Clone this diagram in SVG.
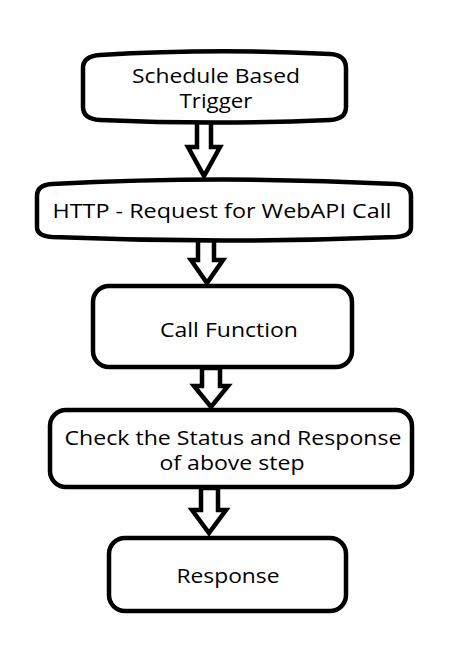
<svg xmlns="http://www.w3.org/2000/svg" width="463" height="655" viewBox="0 0 463 655">
<style>
.box{fill:#fff;stroke:#000;stroke-width:4.5;stroke-linejoin:round}
.arr{fill:#fff;stroke:#000;stroke-width:4.5;stroke-linejoin:miter}
text{font-family:"Open Sans","Noto Sans","Liberation Sans",sans-serif;font-size:20px;font-weight:500;fill:#000;text-anchor:middle}
</style>
<rect width="463" height="655" fill="#fff"/>
<g id="connectors">
<polygon class="arr" points="197,122 211,122 211,147 220,147 204,176 188,147 197,147"/>
<polygon class="arr" points="198,240 214,240 214,260 223,260 207,283 191,260 198,260"/>
<polygon class="arr" points="202,368 220,368 220,386 228,386 211,407 194,386 202,386"/>
<polygon class="arr" points="201,488 218,488 218,510 226,510 209,533 192,510 201,510"/>
</g>
<g id="n1">
<path class="box" d="M83,68 Q83,56 100,55 Q215,48 330,54 Q346,55 346,68 L346,107 Q346,119 330,120 Q215,125 100,120 Q83,119 83,107 Z"/>
<text x="216" y="83" textLength="168" lengthAdjust="spacingAndGlyphs">Schedule Based</text>
<text x="216" y="108" textLength="73" lengthAdjust="spacingAndGlyphs">Trigger</text>
</g>
<g id="n2">
<path class="box" d="M37,196 Q37,185 52,184 Q224,175 396,184 Q411,185 411,196 L411,227 Q411,236 396,237 Q224,244 52,237 Q37,236 37,227 Z"/>
<text x="222" y="218" textLength="339" lengthAdjust="spacingAndGlyphs">HTTP - Request for WebAPI Call</text>
</g>
<g id="n3">
<rect class="box" x="93" y="286" width="259" height="81" rx="16"/>
<text x="229" y="337" textLength="138" lengthAdjust="spacingAndGlyphs">Call Function</text>
</g>
<g id="n4">
<rect class="box" x="50" y="410" width="362" height="77" rx="16"/>
<text x="233" y="445" textLength="337" lengthAdjust="spacingAndGlyphs">Check the Status and Response</text>
<text x="232" y="470" textLength="145" lengthAdjust="spacingAndGlyphs">of above step</text>
</g>
<g id="n5">
<rect class="box" x="109" y="538" width="237" height="73" rx="16"/>
<text x="228" y="583" textLength="103" lengthAdjust="spacingAndGlyphs">Response</text>
</g>
</svg>
